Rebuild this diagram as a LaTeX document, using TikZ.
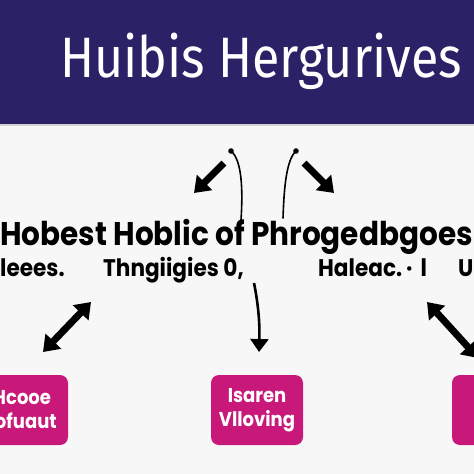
\documentclass[tikz,border=0pt]{standalone}
\usepackage{fontspec}
\setmainfont{Poppins}
\newfontfamily\titlefont[FakeStretch=0.88]{Fira Sans}
\newfontfamily\labelfont[FakeStretch=0.9]{Poppins}
\usetikzlibrary{arrows.meta}
\definecolor{banner}{HTML}{2B2166}
\definecolor{boxpink}{HTML}{C8187A}
\tikzset{
    fat arrow/.style={line width=7pt, -{Triangle[length=15pt, width=21pt]}}, % thick single arrows
    fat double/.style={line width=7pt, {Triangle[length=15pt, width=21pt]}-{Triangle[length=15pt, width=21pt]}},
    thin curve/.style={line width=1.6pt, line cap=round},
    pink box/.style={fill=boxpink, rounded corners=8pt, minimum width=92pt, minimum height=70pt,
        text=white, font=\labelfont\bfseries\fontsize{20}{24}\selectfont, align=center},
    big label/.style={font=\labelfont\bfseries\fontsize{32.8}{34}\selectfont, anchor=base west, inner sep=0pt},
    small label/.style={font=\labelfont\bfseries\fontsize{24}{26}\selectfont, anchor=base west, inner sep=0pt}
}

\begin{document}
\begin{tikzpicture}[x=1pt, y=-1pt]
    \useasboundingbox (0,0) rectangle (474,474);
    \fill[white!97!black] (0,0) rectangle (474,474);
    \fill[banner] (0,0) rectangle (474,124);
    \draw[gray!35, line width=1.5pt] (0,125) -- (474,125);
    \node[text=white, font=\titlefont\fontsize{57}{60}\selectfont, anchor=base west, inner sep=0pt] (title) at (60,77) {Huibis Hergurives};

    % text rows
    \node[big label] (row) at (0,245) {Hobest Hoblic of Phrogedbgoes};
    \node[small label] (lblA) at (0,276) {leees.};
    \node[small label] (lblB) at (103,276) {Thngiigies 0,};
    \node[small label] (lblC) at (318,276) {Haleac.\,\textperiodcentered\,\,l};
    \node[small label] (lblD) at (458,276) {U};

    % boxes
    \node[pink box] (boxL) at (22,410) {Hcooe\\rofuaut};
    \node[pink box] (boxM) at (257,410) {Isaren\\Vlloving};
    \node[pink box] (boxR) at (498,410) {le\\\phantom{x}};

    % arrow ends
    \coordinate (tlA) at (224,163); \coordinate (tlB) at (194,193);
    \coordinate (trA) at (304,163); \coordinate (trB) at (334,193);
    \coordinate (dlA) at (91,302);  \coordinate (dlB) at (43,352);
    \coordinate (drA) at (427,302); \coordinate (drB) at (478,358);
    \coordinate (cL) at (231,151);  \coordinate (cLe) at (241,220);
    \coordinate (cR) at (296,151);  \coordinate (cRe) at (283,218);
    \coordinate (cM) at (254,283);  \coordinate (cMe) at (259,352);

    \draw[fat arrow] (tlA) -- (tlB);
    \draw[fat arrow] (trA) -- (trB);
    \draw[fat double] (dlA) -- (dlB);
    \draw[fat double] (drA) -- (drB);

    \fill (cL) circle (2.8pt);
    \draw[thin curve] (cL) .. controls (242,160) and (243,190) .. (cLe);
    \fill (cR) circle (2.8pt);
    \draw[thin curve] (cR) .. controls (286,160) and (284,190) .. (cRe);
    \draw[line width=2.6pt, -{Triangle[length=13pt, width=18pt]}] (cM) .. controls (257,298) and (260,318) .. (cMe);
\end{tikzpicture}
\end{document}
